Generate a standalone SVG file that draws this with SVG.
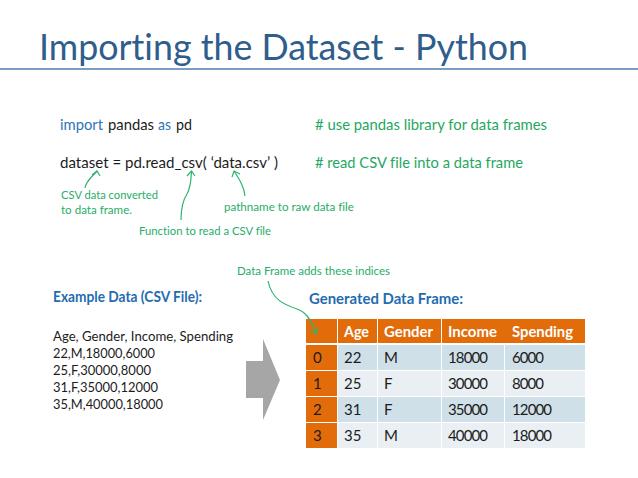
<svg xmlns="http://www.w3.org/2000/svg" width="638" height="478" viewBox="0 0 638 478">
<style>
text{font-family:Lato,"Open Sans","Liberation Sans",sans-serif;font-variant-ligatures:none;}
.c{font-size:16px;fill:#1c1c1c}
.k{font-size:16px;fill:#2e75b6}
.g{font-size:16px;fill:#1fa85f}
.n{font-size:12px;fill:#28ad68}
.h{font-size:15.5px;font-weight:700;fill:#1f6cb0}
.d{font-size:14px;fill:#1c1c1c}
.th{font-size:15px;font-weight:700;fill:#fff}
.td{font-size:15px;fill:#1c1c1c}
.conn{fill:none;stroke:#2fb36f;stroke-width:1.2}
.hd{fill:#e36c0a}.r1{fill:#d0e0e9}.r2{fill:#e9eff3}
</style>
<rect width="638" height="478" fill="#fff"/>
<g id="title">
<text x="39" y="60" font-size="37" fill="#2f5d8c" textLength="489" lengthAdjust="spacingAndGlyphs">Importing the Dataset - Python</text>
<rect x="0" y="68.2" width="638" height="1.6" fill="#5b86b5"/>
</g>
<g id="code">
<text x="60" y="130" class="k" textLength="43" lengthAdjust="spacingAndGlyphs">import</text>
<text x="108" y="130" class="c" textLength="46" lengthAdjust="spacingAndGlyphs">pandas</text>
<text x="158" y="130" class="k" textLength="13" lengthAdjust="spacingAndGlyphs">as</text>
<text x="176" y="130" class="c" textLength="16" lengthAdjust="spacingAndGlyphs">pd</text>
<text x="60" y="168" class="c" textLength="218" lengthAdjust="spacingAndGlyphs">dataset = pd.read_csv( ‘data.csv’ )</text>
<text x="315" y="130" class="g" textLength="232" lengthAdjust="spacingAndGlyphs"># use pandas library for data frames</text>
<text x="315" y="168" class="g" textLength="208" lengthAdjust="spacingAndGlyphs"># read CSV file into a data frame</text>
</g>
<g id="notes">
<text x="61" y="199" class="n" textLength="97" lengthAdjust="spacingAndGlyphs">CSV data converted</text>
<text x="61" y="214" class="n" textLength="71" lengthAdjust="spacingAndGlyphs">to data frame.</text>
<text x="224" y="211" class="n" textLength="130" lengthAdjust="spacingAndGlyphs">pathname to raw data file</text>
<text x="139" y="235" class="n" textLength="132" lengthAdjust="spacingAndGlyphs">Function to read a CSV file</text>
<text x="237" y="275" class="n" textLength="153" lengthAdjust="spacingAndGlyphs">Data Frame adds these indices</text>
</g>
<g id="example">
<text x="53" y="302" class="h" textLength="149" lengthAdjust="spacingAndGlyphs">Example Data (CSV File):</text>
<text x="53" y="341" class="d" textLength="180" lengthAdjust="spacingAndGlyphs">Age, Gender, Income, Spending</text>
<text x="53" y="358" class="d" textLength="102" lengthAdjust="spacingAndGlyphs">22,M,18000,6000</text>
<text x="53" y="375" class="d" textLength="98" lengthAdjust="spacingAndGlyphs">25,F,30000,8000</text>
<text x="53" y="392" class="d" textLength="105" lengthAdjust="spacingAndGlyphs">31,F,35000,12000</text>
<text x="53" y="409" class="d" textLength="110" lengthAdjust="spacingAndGlyphs">35,M,40000,18000</text>
</g>
<g id="arrow"><polygon points="246,361 263,361 263,339 280,380 263,420 263,398 246,398" fill="#a6a6a6"/></g>
<g id="dataframe">
<text x="309" y="304" class="h" textLength="154" lengthAdjust="spacingAndGlyphs">Generated Data Frame:</text>
<rect class="hd" x="306" y="319" width="31" height="24"/>
<rect class="hd" x="338" y="319" width="39" height="24"/>
<rect class="hd" x="378" y="319" width="63" height="24"/>
<rect class="hd" x="442" y="319" width="63" height="24"/>
<rect class="hd" x="505" y="319" width="80" height="24"/>
<rect class="hd" x="306" y="345" width="31" height="25"/>
<rect class="hd" x="306" y="371" width="31" height="25"/>
<rect class="hd" x="306" y="397" width="31" height="25"/>
<rect class="hd" x="306" y="423" width="31" height="25"/>
<g class="r1"><rect x="338" y="345" width="39" height="25"/><rect x="378" y="345" width="63" height="25"/><rect x="442" y="345" width="62" height="25"/><rect x="505" y="345" width="80" height="25"/>
<rect x="338" y="397" width="39" height="25"/><rect x="378" y="397" width="63" height="25"/><rect x="442" y="397" width="62" height="25"/><rect x="505" y="397" width="80" height="25"/></g>
<g class="r2"><rect x="338" y="371" width="39" height="25"/><rect x="378" y="371" width="63" height="25"/><rect x="442" y="371" width="62" height="25"/><rect x="505" y="371" width="80" height="25"/>
<rect x="338" y="423" width="39" height="25"/><rect x="378" y="423" width="63" height="25"/><rect x="442" y="423" width="62" height="25"/><rect x="505" y="423" width="80" height="25"/></g>
<text x="344" y="337" class="th" textLength="25" lengthAdjust="spacingAndGlyphs">Age</text>
<text x="384" y="337" class="th" textLength="49" lengthAdjust="spacingAndGlyphs">Gender</text>
<text x="448" y="337" class="th" textLength="49" lengthAdjust="spacingAndGlyphs">Income</text>
<text x="512" y="337" class="th" textLength="61" lengthAdjust="spacingAndGlyphs">Spending</text>
<text x="313" y="363" class="td">0</text><text x="344" y="363" class="td">22</text><text x="384" y="363" class="td">M</text><text x="448" y="363" class="td" textLength="40">18000</text><text x="512" y="363" class="td" textLength="32">6000</text>
<text x="313" y="389" class="td">1</text><text x="344" y="389" class="td">25</text><text x="384" y="389" class="td">F</text><text x="448" y="389" class="td" textLength="40">30000</text><text x="512" y="389" class="td" textLength="32">8000</text>
<text x="313" y="415" class="td">2</text><text x="344" y="415" class="td">31</text><text x="384" y="415" class="td">F</text><text x="448" y="415" class="td" textLength="40">35000</text><text x="512" y="415" class="td" textLength="40">12000</text>
<text x="313" y="441" class="td">3</text><text x="344" y="441" class="td">35</text><text x="384" y="441" class="td">M</text><text x="448" y="441" class="td" textLength="40">40000</text><text x="512" y="441" class="td" textLength="40">18000</text>
</g>
<g id="connectors">
<path class="conn" d="M85 188 C86 181 92 177 97 171"/><path class="conn" d="M92 175 L97 171 L100 176"/>
<path class="conn" d="M181 220 C181 208 183 200 187 194 C191 187 191 180 191.500 171"/><path class="conn" d="M187 176 L191.500 171 L195 176"/>
<path class="conn" d="M245 196 C244 186 239 179 234 171"/><path class="conn" d="M232 177 L234 171 L240 174"/>
<path class="conn" d="M268 281 C272 300 285 305 297 309 C307 312 312 322 316 334"/><path class="conn" d="M311 330 L316 334 L318 327"/>
</g>
</svg>
